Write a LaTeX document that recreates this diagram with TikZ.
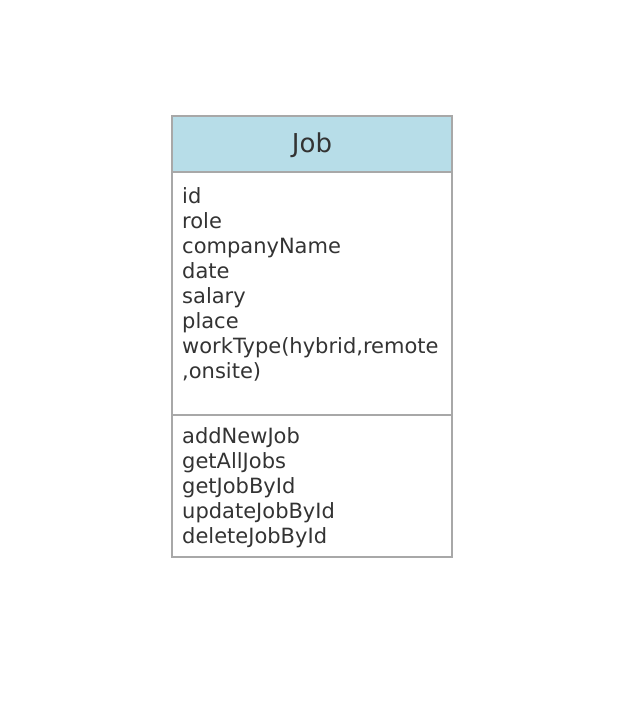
\documentclass[tikz,border=0pt]{standalone}
\usepackage{fontspec}
\setmainfont{DejaVu Sans}
\definecolor{hdr}{HTML}{B7DDE8}
\definecolor{brd}{HTML}{A8A8A8}
\definecolor{txt}{HTML}{333333}
\begin{document}
\begin{tikzpicture}[x=1pt,y=-1pt,
  member/.style={anchor=base west,inner sep=0pt,text=txt,font=\fontsize{21}{25}\selectfont},
  frame/.style={draw=brd,line width=2pt}]
\useasboundingbox (0,0) rectangle (619,718);
\fill[hdr] (172,116) rectangle (452,172);
\node[inner sep=0pt,text=txt,font=\fontsize{26}{30}\selectfont] (title) at (312,145) {Job};
\draw[frame] (172,116) rectangle (452,557);
\draw[frame] (172,172) -- (452,172);
\draw[frame] (172,415) -- (452,415);
\foreach \t [count=\i] in {id,role,companyName,date,salary,place,{workType(hybrid,remote},{,onsite)}}
  \node[member] (a\i) at (182,{178+25*\i}) {\t};
\foreach \t [count=\i] in {addNewJob,getAllJobs,getJobById,updateJobById,deleteJobById}
  \node[member] (m\i) at (182,{418+25*\i}) {\t};
\end{tikzpicture}
\end{document}
